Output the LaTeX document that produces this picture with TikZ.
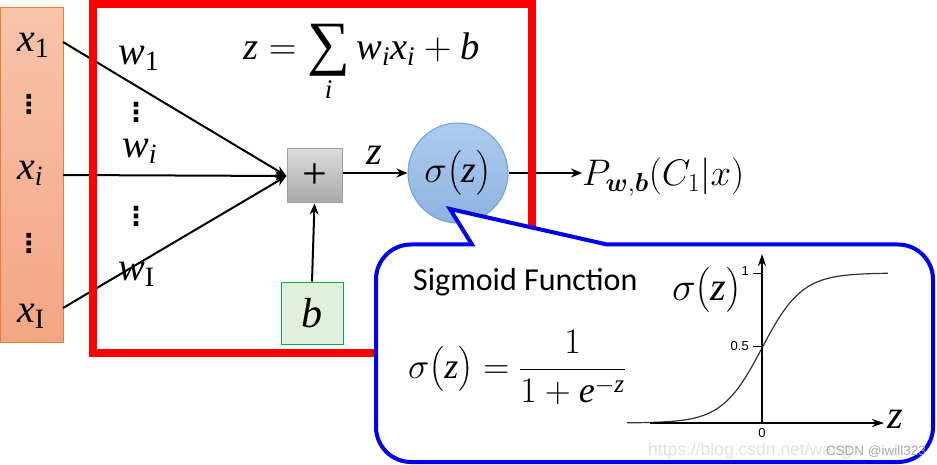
\RequirePackage{fix-cm}
\documentclass[tikz,border=0pt]{standalone}
\usepackage{amsmath}
\usepackage{exscale}
\usepackage{fontspec}
\setmainfont{Liberation Serif}
\newfontfamily\calib{Carlito}
\newfontfamily\arialf{Liberation Sans}
\newfontfamily\dejav{DejaVu Sans}
\usetikzlibrary{arrows.meta}
\definecolor{orT}{HTML}{F8C4AA}
\definecolor{orB}{HTML}{F4A584}
\definecolor{orD}{HTML}{ED7D31}
\definecolor{gyT}{HTML}{DCDCDC}
\definecolor{gyB}{HTML}{A8A8A8}
\definecolor{gyD}{HTML}{A0A0A0}
\definecolor{grF}{HTML}{E2EFDA}
\definecolor{grD}{HTML}{00B050}
\definecolor{blT}{HTML}{AECBEC}
\definecolor{blB}{HTML}{8DB3E2}
\definecolor{blD}{HTML}{6FA0D8}
\definecolor{callB}{RGB}{0,0,235}
\definecolor{wm}{HTML}{E2E2E2}
\definecolor{wm2}{HTML}{A8A8A8}
\newcommand{\mi}[1]{\textit{#1}}
\newcommand{\bigsum}{\mathop{\vcenter{\hbox{\fontsize{60}{60}\selectfont ∑}}}}
\tikzset{
  big/.style={font=\fontsize{40}{48}\selectfont, inner sep=0pt},
  vdot/.style={font=\dejav\bfseries\fontsize{26}{28}\selectfont, inner sep=0pt},
  conn/.style={line width=2pt, -{Stealth[length=11pt,width=9pt]}},
  plusbox/.style={draw=gyD, line width=1pt, top color=gyT, bottom color=gyB, minimum width=55pt, minimum height=54pt, inner sep=0pt, font=\fontsize{44}{48}\selectfont},
  bbox/.style={draw=grD, line width=1pt, fill=grF, minimum width=62pt, minimum height=62pt, inner sep=0pt, font=\fontsize{42}{48}\selectfont},
  sigc/.style={circle, draw=blD, line width=1pt, top color=blT, bottom color=blB, minimum size=100pt, inner sep=0pt, font=\fontsize{38}{46}\selectfont},
  axisl/.style={line width=1.5pt, -{Stealth[length=12pt,width=8pt]}},
  tick/.style={font=\arialf\fontsize{13}{15}\selectfont, inner sep=0pt}
}
\begin{document}
\begin{tikzpicture}[x=1pt,y=-1pt]
\useasboundingbox (0,0) rectangle (937,465);
% input column
\draw[draw=orD, line width=1pt, top color=orT, bottom color=orB] (0.5,8) rectangle (63.5,342);
\node[big, anchor=base west] (x1) at (17,52) {$\mi{x}_{\textrm{1}}$};
\node[vdot] (d1) at (29,104) {⋮};
\node[big, anchor=base west] (xi) at (17,180) {$\mi{x}_{\mi{i}}$};
\node[vdot] (d2) at (29,243) {⋮};
\node[big, anchor=base west] (xI) at (17,322) {$\mi{x}_{\textrm{I}}$};
\coordinate (in1) at (63,42);
\coordinate (ini) at (63,175);
\coordinate (inI) at (63,308);
% summation and bias
\node[plusbox] (sum) at (314.5,176) {+};
\node[bbox] (b) at (312,313) {$\mi{b}$};
\node[sigc] (sig) at (458,173) {$\sigma\bigl(\mi{z}\bigr)$};
\draw[conn] (in1) -- (sum.west);
\draw[conn] (ini) -- (sum.west);
\draw[conn] (inI) -- (sum.west);
\draw[conn] (b.north) -- (sum.south);
\draw[conn] (sum.east |- sig.west) -- (sig.west);
\node[font=\fontsize{37}{44}\selectfont, inner sep=0pt, anchor=base west] (out) at (582,186) {$P_{\boldsymbol{w},\boldsymbol{b}}(C_1|x)$};
\draw[conn] (sig.east) -- (out.west |- sig.east);
% weight labels
\node[big, anchor=base west] (w1) at (118,65) {$\mi{w}_{\textrm{1}}$};
\node[vdot] (d3) at (136,112) {⋮};
\node[big, anchor=base west] (wi) at (122,158) {$\mi{w}_{\mi{i}}$};
\node[vdot] (d4) at (136,216) {⋮};
\node[big, anchor=base west] (wI) at (118,280) {$\mi{w}_{\textrm{I}}$};
\node[big, anchor=base west] (zl) at (366,165) {$\mi{z}$};
% top formula
\node[font=\fontsize{38.5}{46}\selectfont, inner sep=0pt, anchor=base west] (zf) at (243,60) {$\displaystyle \mi{z}=\bigsum\limits_{\mi{i}}\mi{w}_{\mi{i}}\mi{x}_{\mi{i}}+\mi{b}$};
% red frame
\draw[red, line width=8pt] (92.5,4) rectangle (532,352.5);
% callout
\draw[callB, line width=4pt, fill=white, line join=miter]
  (472,244.5) -- (411,244.5) arc[start angle=270, end angle=180, radius=35]
  -- (376,427) arc[start angle=180, end angle=90, radius=35]
  -- (898,462) arc[start angle=90, end angle=0, radius=35]
  -- (933,279.5) arc[start angle=360, end angle=270, radius=35]
  -- (607,244.5) -- (450,209) -- cycle;
\node[font=\calib\fontsize{32}{38}\selectfont, inner sep=0pt, anchor=base west] (sf) at (413,290) {Sigmoid Function};
\node[font=\fontsize{36}{44}\selectfont, inner sep=0pt, anchor=base west] (sfo) at (408,378) {$\sigma\bigl(\mi{z}\bigr)=\dfrac{1}{1+\mi{e}^{-\mi{z}}}$};
% graph
\draw[line width=1.2pt, color=black!80, domain=-6.75:6.3, samples=120, smooth] plot ({762+20*\x},{423-150/(1+exp(-1*\x))});
\draw[axisl] (650,423) -- (884,423);
\draw[axisl] (762,423) -- (762,254);
\draw[line width=1pt] (753,273) -- (762,273);
\draw[line width=1pt] (753,346) -- (762,346);
\node[tick, anchor=east] (t1) at (749,271) {1};
\node[tick, anchor=east] (t05) at (749,346) {0.5};
\node[tick, anchor=north] (t0) at (762,428) {0};
\node[big, anchor=base west] (za) at (887,428) {$\mi{z}$};
\node[big, anchor=base west] (sg) at (672,300) {$\sigma\bigl(\mi{z}\bigr)$};
% watermark
\node[font=\arialf\fontsize{17.5}{20}\selectfont, text=wm, inner sep=0pt, anchor=base west] (url) at (648,455) {https://blog.csdn.net/wang};
\node[font=\arialf\fontsize{13.5}{16}\selectfont, text=wm2, inner sep=0pt, anchor=base east] (csdn) at (926,455) {CSDN @iwill323};
\end{tikzpicture}
\end{document}
